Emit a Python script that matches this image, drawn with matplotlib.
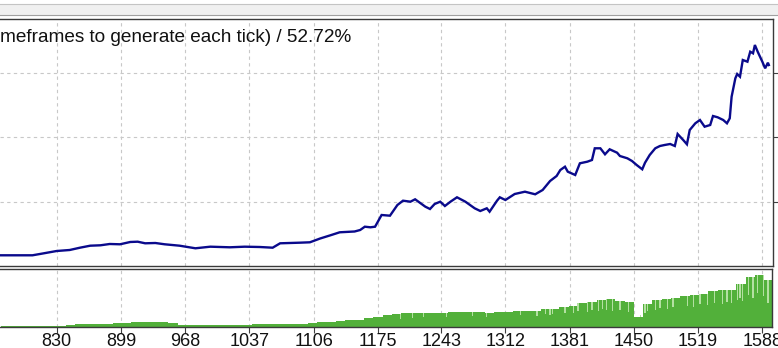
import numpy as np
import matplotlib
matplotlib.use('Agg')
import matplotlib.pyplot as plt
from matplotlib.lines import Line2D
from matplotlib.patches import Rectangle

plt.rcParams['font.family'] = ['Liberation Sans', 'DejaVu Sans']

# balance curve (trade number, balance)
trades = [769, 804, 812, 830, 844, 855, 866, 877, 887, 898, 909, 917, 925, 936, 946,
          962, 979, 995, 1016, 1032, 1048, 1062, 1070, 1091, 1102, 1113, 1124, 1134,
          1150, 1156, 1161, 1167, 1172, 1179, 1188, 1196, 1202, 1210, 1215, 1226, 1231,
          1236, 1242, 1247, 1253, 1260, 1269, 1279, 1285, 1292, 1295, 1303, 1306, 1312,
          1322, 1333, 1344, 1352, 1360, 1367, 1371, 1376, 1379, 1387, 1392, 1400, 1405,
          1408, 1414, 1419, 1424, 1432, 1435, 1443, 1448, 1453, 1459, 1462, 1467, 1473,
          1478, 1483, 1489, 1494, 1497, 1503, 1507, 1510, 1516, 1521, 1526, 1532, 1535,
          1540, 1546, 1550, 1553, 1555, 1559, 1561, 1564, 1567, 1572, 1575, 1578, 1580,
          1583, 1588, 1591, 1594, 1595]
balance = [10845, 10845, 10946, 11178, 11256, 11434, 11589, 11620, 11721, 11698, 11876,
           11899, 11775, 11798, 11698, 11589, 11388, 11512, 11465, 11512, 11488, 11434,
           11775, 11822, 11853, 12147, 12395, 12628, 12690, 12806, 13062, 13015, 13062,
           13969, 13915, 14744, 15078, 15000, 15186, 14612, 14434, 14822, 15000, 14667,
           15000, 15341, 15000, 14488, 14279, 14488, 14225, 15078, 15341, 15132, 15597,
           15775, 15574, 15907, 16605, 16992, 17457, 17713, 17326, 17070, 17977, 18101,
           18233, 19140, 19140, 18674, 19062, 18798, 18543, 18364, 18155, 17845, 17512,
           18023, 18620, 19140, 19318, 19395, 19473, 19318, 20248, 19783, 19450, 20558,
           21078, 21333, 20814, 20946, 21643, 21543, 21333, 21078, 21465, 23140, 24566,
           24899, 24690, 25985, 25853, 26628, 26504, 27147, 26628, 25853, 25341, 25775,
           25597]

# lot sizes, blocks of 10 trades starting at trade 770
lot_start = 770
lots = [0.01, 0.01, 0.01, 0.01, 0.01, 0.01, 0.01, 0.02, 0.03, 0.03,
        0.03, 0.03, 0.04, 0.04, 0.05, 0.05, 0.05, 0.05, 0.04, 0.02,
        0.02, 0.02, 0.02, 0.02, 0.02, 0.02, 0.02, 0.03, 0.03, 0.03,
        0.03, 0.03, 0.03, 0.04, 0.05, 0.05, 0.06, 0.07, 0.07, 0.09,
        0.10, 0.12, 0.13, 0.14, 0.14, 0.15, 0.15, 0.15, 0.16, 0.16,
        0.16, 0.16, 0.15, 0.16, 0.16, 0.17, 0.17, 0.17, 0.19, 0.19,
        0.21, 0.22, 0.25, 0.26, 0.28, 0.29, 0.27, 0.26, 0.10, 0.24,
        0.28, 0.29, 0.30, 0.32, 0.33, 0.34, 0.37, 0.38, 0.38, 0.45,
        0.52, 0.54, 0.49]
# single trades with a smaller lot than their neighbours
gap_trades = [1199, 1212, 1224, 1249, 1277, 1292, 1328, 1346, 1355, 1360, 1363, 1376,
              1385, 1390, 1400, 1405, 1412, 1416, 1421, 1427, 1435, 1444, 1457, 1462,
              1465, 1473, 1478, 1486, 1492, 1508, 1514, 1521, 1529, 1537, 1545, 1550,
              1555, 1561, 1564, 1567, 1573, 1578, 1583, 1589, 1594]
gap_lots = [0.08, 0.09, 0.10, 0.10, 0.11, 0.10, 0.12, 0.11, 0.13, 0.12, 0.13, 0.14,
            0.15, 0.17, 0.16, 0.18, 0.17, 0.19, 0.18, 0.17, 0.18, 0.16, 0.12, 0.15,
            0.17, 0.18, 0.20, 0.19, 0.21, 0.22, 0.21, 0.24, 0.23, 0.25, 0.24, 0.26,
            0.25, 0.28, 0.30, 0.27, 0.33, 0.30, 0.35, 0.32, 0.25]

tick_labels = ['830', '899', '968', '1037', '1106', '1175', '1243', '1312',
               '1381', '1450', '1519', '1588']
balance_ticks = [15000, 20000, 25000]

title = 'meframes to generate each tick) / 52.72%'

W, H = 778, 348
fig = plt.figure(figsize=(W / 100, H / 100), dpi=100)
fig.patch.set_facecolor('white')

# window strip on top
fig.add_artist(Rectangle((0, 1 - 14.5 / H), 1, 10.5 / H, transform=fig.transFigure,
                         facecolor='#f0f0f0', edgecolor='none'))
fig.add_artist(Line2D([0, 1], [1 - 4 / H, 1 - 4 / H], transform=fig.transFigure,
                      color='#c4c4c4', lw=0.8))
fig.add_artist(Line2D([0, 1], [1 - 14.5 / H, 1 - 14.5 / H], transform=fig.transFigure,
                      color='#a0a0a0', lw=0.8))

px = 1.0742  # trades per pixel
x_left = 769.1
ax = fig.add_axes([0, 1 - 266 / H, 773 / W, 247 / H])
ax2 = fig.add_axes([0, 1 - 327 / H, 772 / W, 58 / H])

grid_kw = dict(color='#c8c8c8', linestyle=(0, (3, 3)), linewidth=0.8)
tick_pos = [int(t) for t in tick_labels]

ax.plot(trades, balance, color='#0a0a8c', lw=1.7, solid_joinstyle='miter', zorder=3)
ax.set_xlim(x_left, x_left + 773 * px)
ax.set_ylim(10015, 29163)
ax.set_xticks(tick_pos)
ax.set_yticks(balance_ticks)
ax.grid(True, **grid_kw)
ax.tick_params(axis='x', length=0, labelbottom=False)
ax.tick_params(axis='y', left=False, labelleft=False, right=True, labelright=False,
               length=4, width=0.8, color='#404040', direction='out')

ax2.bar([lot_start + 10 * i for i in range(len(lots))], lots, width=10, align='edge',
        color='#52b03a', linewidth=0, zorder=2)
gap_tops = [lots[(t - lot_start) // 10] for t in gap_trades]
ax2.bar(gap_trades, np.array(gap_tops) - np.array(gap_lots), bottom=gap_lots,
        width=1.3, color='#b4e0a2', linewidth=0, zorder=2)
ax2.set_xlim(x_left, x_left + 772 * px)
ax2.set_ylim(0, 0.6)
ax2.set_xticks(tick_pos)
ax2.set_xticklabels(tick_labels, fontsize=13)
ax2.set_yticks([])
ax2.grid(True, axis='x', **grid_kw)
ax2.set_axisbelow(True)
ax2.tick_params(axis='x', length=4, width=0.8, color='#404040', pad=0.5,
                labelcolor='#111111')

for a in (ax, ax2):
    a.set_facecolor('white')
    a.spines['left'].set_visible(False)
    for s in ('top', 'right', 'bottom'):
        a.spines[s].set_color('#3a3a3a')
        a.spines[s].set_linewidth(1.0)

fig.text(0, 1 - 42.5 / H, title, fontsize=13.7, color='#111111',
         ha='left', va='baseline')

fig.savefig('out.png', dpi=100)
